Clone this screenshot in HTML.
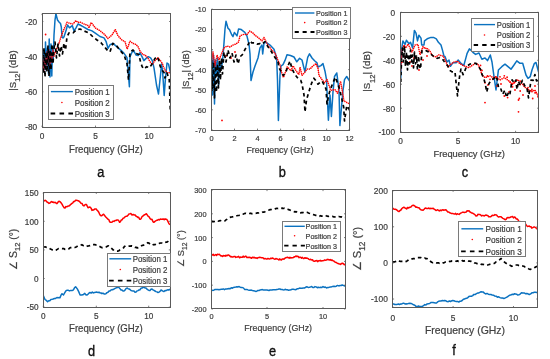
<!DOCTYPE html>
<html><head><meta charset="utf-8"><title>S12 measurements</title>
<style>
html,body{margin:0;padding:0;background:#fff;}
body{width:550px;height:359px;overflow:hidden;}
svg{display:block;font-family:"Liberation Sans",Arial,sans-serif;filter:blur(0.3px);}
.tx{stroke:currentColor;stroke-width:0.22px;}
</style></head><body>
<svg width="550" height="359" viewBox="0 0 550 359">
<rect width="550" height="359" fill="#fff"/>
<clipPath id="cla"><rect x="42" y="13.7" width="128.5" height="113.3"/></clipPath>
<g clip-path="url(#cla)">
<polyline points="42,52 43,68 44,50 45,70 45.5,42 46.5,66 47.5,48 48.5,74 49.2,39 50,77 51,44 51.8,76 52.5,48 53.2,60 54,35 55,20 55.9,13.8 57.5,20 59,22 60.5,23.5 61.3,27 62,37 63,38 64,36.7 66.2,30 67.5,25 69.5,27.8 72.3,25.6 74,31 76,27.8 78,24 80,25 83,26.7 88,29.5 92,30.9 96,33.7 100,36.5 104,37.9 106,41.3 108,48.3 110,44.8 113,43.4 117,46.9 121,50.4 124,53.3 127,57.7 129.4,86.8 130,56.7 132,52.2 133.9,51.1 136,55 138,55.6 140,52.8 142,56.7 143.9,60.6 146.1,58.4 148.4,56.7 150.6,57.8 152.3,60.6 154,67.8 156.5,85 158.5,94 160.5,75 161.5,64 162.5,70 164.2,95.5 165.5,78 167,63 168.5,64 170.3,72" fill="none" stroke="#0b72c0" stroke-width="1.5" stroke-linejoin="round"/>
<polyline points="42,66 43,60 44,70 45,58 46,66 47,52 48,62 49,50 50,66 51,54 52,62 53,50 54,56 56,50 58,46 60,40 62,34 64.5,28 67,22.3 70,23.4 73,24 76,20.6 78,22.5 80,22 84,24 87.7,25.3 89,28 91.2,22.5 95.4,28 100.3,30.9 104.5,34.4 108,38.5 112,35 115.3,29.5 118,35.8 121.9,40 125,41.7 127.2,49 130,41.1 132.8,43.3 136.1,44.5 138.4,47.2 140,51.1 142.8,54.5 145,55 147.8,57.8 150,61.7 152.3,64.5 154,61.7 156.2,59.5 157.8,57.8 160,60 162.3,63.4 163.4,66.7 165,70 167.9,73.4 170.3,72.3" fill="none" stroke="#ff0000" stroke-width="1.6" stroke-linecap="round" stroke-linejoin="round" stroke-dasharray="0.01 2.0"/>
<circle cx="45.6" cy="34.5" r="0.9" fill="#ff0000"/>
<polyline points="42,56 43,74 44,48 45,77 46,52 47,72 48,46 49,76 50,50 51,70 52,44 53,64 54,48 55,42 56.5,58 58,44 59.5,56 61,46 62.5,54 64,43 65.5,50 67,37 69,32.8 73,32.8 77,29.5 80,29 84,30.9 89,33 93.3,37.2 97,40 101,42.7 105.2,47.6 108,51 110,51.8 112.8,43.4 116,45 120,50.4 124,54.8 127,63.5 128.5,80 130,52 133,50 136,53.4 138.9,54.5 140.6,62.3 142.2,66.7 144,69 146.7,66.7 149.5,67.8 151.7,64.5 155,58.4 157.3,56.7 159.5,62.3 160,65.6 161.7,70 164,72.3 165,78 167,73 169.3,80 170.3,110" fill="none" stroke="#000000" stroke-width="1.7" stroke-dasharray="3.6 3.1" stroke-linejoin="round"/>
</g>
<rect x="42.5" y="13.5" width="128" height="114" fill="none" stroke="#5a5a5a" stroke-width="1"/>
<path d="M42 21.5h1.4M170.5 21.5h-1.4" stroke="#5a5a5a" stroke-width="0.8"/>
<path d="M42 56.7h1.4M170.5 56.7h-1.4" stroke="#5a5a5a" stroke-width="0.8"/>
<path d="M42 91.8h1.4M170.5 91.8h-1.4" stroke="#5a5a5a" stroke-width="0.8"/>
<path d="M42 127h1.4M170.5 127h-1.4" stroke="#5a5a5a" stroke-width="0.8"/>
<path d="M42 127v-1.4M42 13.7v1.4" stroke="#5a5a5a" stroke-width="0.8"/>
<path d="M95.5 127v-1.4M95.5 13.7v1.4" stroke="#5a5a5a" stroke-width="0.8"/>
<path d="M149 127v-1.4M149 13.7v1.4" stroke="#5a5a5a" stroke-width="0.8"/>
<g font-size="9.1" fill="#3c3c3c" color="#3c3c3c" class="tx">
<text transform="translate(37.2 24.7) scale(0.91 1)" text-anchor="end">-20</text>
<text transform="translate(37.2 59.9) scale(0.91 1)" text-anchor="end">-40</text>
<text transform="translate(37.2 95) scale(0.91 1)" text-anchor="end">-60</text>
<text transform="translate(37.2 130.2) scale(0.91 1)" text-anchor="end">-80</text>
<text transform="translate(42 139.4) scale(0.91 1)" text-anchor="middle">0</text>
<text transform="translate(95.5 139.4) scale(0.91 1)" text-anchor="middle">5</text>
<text transform="translate(149 139.4) scale(0.91 1)" text-anchor="middle">10</text>
</g>
<text transform="translate(15.6 70.5) rotate(-90)" font-size="9.6" fill="#404040" color="#404040" text-anchor="middle" class="tx">|S<tspan font-size="7.5" dy="4.8">12</tspan><tspan dy="-4.8">| (dB)</tspan></text>
<g font-size="10.2" fill="#404040" color="#404040" class="tx"><text transform="translate(105.9 152.6) scale(0.943 1)" text-anchor="middle">Frequency (GHz)</text></g>
<g font-size="14.2" fill="#111" stroke="#111" stroke-width="0.35"><text transform="translate(100.9 176.5) scale(0.9 1)" text-anchor="middle">a</text></g>
<rect x="48.5" y="85.5" width="65" height="34" fill="#fff" stroke="#7a7a7a" stroke-width="1"/>
<path d="M50.9 91.6H72.9" stroke="#0b72c0" stroke-width="1.4"/>
<circle cx="61.9" cy="102.5" r="0.8" fill="#ff0000"/>
<path d="M50.6 113.5H73" stroke="#000000" stroke-width="1.8" stroke-dasharray="4.6 4.3"/>
<g font-size="8.8" fill="#3c3c3c" color="#3c3c3c" class="tx">
<text transform="translate(74.7 94.7) scale(0.909 1)" text-anchor="start">Position 1</text>
<text transform="translate(74.7 105.6) scale(0.909 1)" text-anchor="start">Position 2</text>
<text transform="translate(74.7 116.6) scale(0.909 1)" text-anchor="start">Position 3</text>
</g>
<clipPath id="clb"><rect x="211.5" y="9.2" width="138.1" height="120.8"/></clipPath>
<g clip-path="url(#clb)">
<polyline points="211.5,50 212.5,95 213.5,55 214.5,104 215.5,60 216.5,75 217.5,58 218.5,85 219.5,62 220.5,70 222.5,62 224,42.9 225,29 226,21.3 228,28.2 229.5,29.6 231.6,34.5 233,36.6 234.4,32.4 237,35.9 238.6,28.9 241.3,29.6 244.8,32.4 246.9,35.9 249,44.2 250,54 251,80.5 253,72 255,66 258,58 260,47.9 262,45 262.7,54 264,43 266.1,42.3 270,45 274,49.2 276.6,57.6 277.5,80 278.4,120.4 280,75 281,66 283,64.6 285,60.4 287,54.8 290.5,55.5 294,57 296.8,61.8 299.6,58.3 302,60 304.9,71.9 307.7,57.3 309.5,53.8 312,58 314.6,60.8 317,62.9 318,67 320.9,65.6 323,63.6 325,71.2 326.5,79.6 328.4,120.2 330,95 331.4,116.4 333,91.9 334.5,76.5 336.8,73 339,90.3 339.9,125.6 343,90.3 344.5,79.6 346.7,76.5 349.6,81.1" fill="none" stroke="#0b72c0" stroke-width="1.5" stroke-linejoin="round"/>
<polyline points="211.5,62 213,52 215,66 217,55 219,60 221,55 224,48 227,46 230,47 233,45 236,44 238.5,42 240,36 243,34.5 247,34.5 249.7,31 253,33.1 255,35.3 258,37.4 262,40.9 264,37.4 267,43.7 271.7,50 275.2,53.4 278,60.4 280,64.6 281.5,72 283.5,77.5 287.2,66.8 291,70.7 293,65.8 296,70.7 298.9,74.6 300,67 302,75.4 304,73.3 307,69.1 310,69.1 312.5,66.3 316,63.6 318,68.4 319,75.4 322,79.6 324.5,82.7 327,79.6 330.7,90.3 335,89.6 337.6,93.4 340.6,81.1 344,101 347,102.6 349.6,104" fill="none" stroke="#ff0000" stroke-width="1.6" stroke-linecap="round" stroke-linejoin="round" stroke-dasharray="0.01 2.0"/>
<circle cx="222" cy="120.4" r="0.9" fill="#ff0000"/>
<circle cx="226" cy="56" r="0.9" fill="#ff0000"/>
<circle cx="231" cy="58" r="0.9" fill="#ff0000"/>
<circle cx="235" cy="52" r="0.9" fill="#ff0000"/>
<polyline points="211.5,60 212.5,90 213.5,62 214.5,98 215.5,66 216.5,92 217.5,64 218.5,88 219.5,60 220.5,80 221.5,58 222.5,74 224,52 226,62 228,50 230,58 232,53 234,62 236,55 238,64 240,56.8 243,54 244.8,49.8 247.6,45.6 250,40.8 251.8,42.9 255,43 257,44.2 260,43.6 262,44.4 265,41.6 268.2,47.2 270,49.2 272.4,53.4 276,59 278,61.8 279,67.8 283.3,75.6 286,71.7 288,65.8 290,61 292,68.8 295,74.6 298,78.5 300.8,80.5 302,84 304,95 305,112 306.5,100 308.4,93.4 311.5,83.4 313.9,78.2 316,81 318,84.2 320,82.4 322.2,81.1 326,88.8 327,104 328.5,96 330,90.3 333,82.7 335.3,77.3 338,84.2 339.9,90.3 343.7,107.2 344.5,121 346.8,105.7 349.6,110" fill="none" stroke="#000000" stroke-width="1.7" stroke-dasharray="3.6 3.1" stroke-linejoin="round"/>
</g>
<rect x="211.5" y="9.5" width="138" height="121" fill="none" stroke="#5a5a5a" stroke-width="1"/>
<path d="M211.5 9.2h1.4M349.6 9.2h-1.4" stroke="#5a5a5a" stroke-width="0.8"/>
<path d="M211.5 29.3h1.4M349.6 29.3h-1.4" stroke="#5a5a5a" stroke-width="0.8"/>
<path d="M211.5 49.5h1.4M349.6 49.5h-1.4" stroke="#5a5a5a" stroke-width="0.8"/>
<path d="M211.5 69.6h1.4M349.6 69.6h-1.4" stroke="#5a5a5a" stroke-width="0.8"/>
<path d="M211.5 89.7h1.4M349.6 89.7h-1.4" stroke="#5a5a5a" stroke-width="0.8"/>
<path d="M211.5 109.8h1.4M349.6 109.8h-1.4" stroke="#5a5a5a" stroke-width="0.8"/>
<path d="M211.5 130h1.4M349.6 130h-1.4" stroke="#5a5a5a" stroke-width="0.8"/>
<path d="M211.5 130v-1.4M211.5 9.2v1.4" stroke="#5a5a5a" stroke-width="0.8"/>
<path d="M234.5 130v-1.4M234.5 9.2v1.4" stroke="#5a5a5a" stroke-width="0.8"/>
<path d="M257.5 130v-1.4M257.5 9.2v1.4" stroke="#5a5a5a" stroke-width="0.8"/>
<path d="M280.6 130v-1.4M280.6 9.2v1.4" stroke="#5a5a5a" stroke-width="0.8"/>
<path d="M303.6 130v-1.4M303.6 9.2v1.4" stroke="#5a5a5a" stroke-width="0.8"/>
<path d="M326.6 130v-1.4M326.6 9.2v1.4" stroke="#5a5a5a" stroke-width="0.8"/>
<path d="M349.6 130v-1.4M349.6 9.2v1.4" stroke="#5a5a5a" stroke-width="0.8"/>
<g font-size="8.1" fill="#3c3c3c" color="#3c3c3c" class="tx">
<text transform="translate(206 12.1) scale(0.91 1)" text-anchor="end">-10</text>
<text transform="translate(206 32.2) scale(0.91 1)" text-anchor="end">-20</text>
<text transform="translate(206 52.3) scale(0.91 1)" text-anchor="end">-30</text>
<text transform="translate(206 72.5) scale(0.91 1)" text-anchor="end">-40</text>
<text transform="translate(206 92.6) scale(0.91 1)" text-anchor="end">-50</text>
<text transform="translate(206 112.7) scale(0.91 1)" text-anchor="end">-60</text>
<text transform="translate(206 132.9) scale(0.91 1)" text-anchor="end">-70</text>
<text transform="translate(211.5 141.4) scale(0.91 1)" text-anchor="middle">0</text>
<text transform="translate(234.5 141.4) scale(0.91 1)" text-anchor="middle">2</text>
<text transform="translate(257.5 141.4) scale(0.91 1)" text-anchor="middle">4</text>
<text transform="translate(280.6 141.4) scale(0.91 1)" text-anchor="middle">6</text>
<text transform="translate(303.6 141.4) scale(0.91 1)" text-anchor="middle">8</text>
<text transform="translate(326.6 141.4) scale(0.91 1)" text-anchor="middle">10</text>
<text transform="translate(349.6 141.4) scale(0.91 1)" text-anchor="middle">12</text>
</g>
<text transform="translate(188.8 69.7) rotate(-90)" font-size="9.2" fill="#404040" color="#404040" text-anchor="middle" class="tx">|S<tspan font-size="7.2" dy="4.6">12</tspan><tspan dy="-4.6">| (dB)</tspan></text>
<g font-size="9.3" fill="#404040" color="#404040" class="tx"><text transform="translate(280 153.1) scale(0.943 1)" text-anchor="middle">Frequency (GHz)</text></g>
<g font-size="14.2" fill="#111" stroke="#111" stroke-width="0.35"><text transform="translate(282.2 176.5) scale(0.9 1)" text-anchor="middle">b</text></g>
<rect x="292.5" y="7.5" width="58" height="31" fill="#fff" stroke="#7a7a7a" stroke-width="1"/>
<path d="M295 13H314.4" stroke="#0b72c0" stroke-width="1.4"/>
<circle cx="304.7" cy="22.6" r="0.8" fill="#ff0000"/>
<path d="M294.7 32H314.5" stroke="#000000" stroke-width="1.8" stroke-dasharray="4.1 3.8"/>
<g font-size="7.9" fill="#3c3c3c" color="#3c3c3c" class="tx">
<text transform="translate(316 15.8) scale(0.909 1)" text-anchor="start">Position 1</text>
<text transform="translate(316 25.4) scale(0.909 1)" text-anchor="start">Position 2</text>
<text transform="translate(316 34.8) scale(0.909 1)" text-anchor="start">Position 3</text>
</g>
<clipPath id="clc"><rect x="400.6" y="12.3" width="138" height="119.9"/></clipPath>
<g clip-path="url(#clc)">
<polyline points="400.8,78 401.5,50 402.9,40.9 405,44.4 406.4,40.2 409,43.7 410.5,42.3 412.6,47.9 414.4,30.4 416,33.2 417.5,40.9 418.9,35.3 421,38.1 421.7,45 424,45 424.5,40.9 427.2,38.8 431,37.4 433.5,37.4 436.3,38.8 438.4,42.3 441,45 442.6,50.6 444,56.2 445,56.5 447,62 449,60 450.6,66.2 453,62.7 456.1,62.7 458.2,60 461,63.4 463.8,65.5 465.9,57.9 467,53.7 469.4,48.8 472.9,52.3 475.6,54.4 479,53 481.9,59.2 485,57.9 487.5,60.6 490.3,55 492,62 494,76.7 496,90 498.4,70 501.8,66.7 505,64.2 508,66.7 511,69.2 514,65 516.8,60.8 520,63.3 522.7,63.3 526,75 528,78.4 530.2,76.7 532,70 534.4,63.3 536,62.5 538.6,72" fill="none" stroke="#0b72c0" stroke-width="1.5" stroke-linejoin="round"/>
<polyline points="400.8,70 402,50 404,45 406,48 408,44 410,47.9 412,52 415,45 418,44.4 420,54.8 423,46.5 425,48.6 426.6,47.9 430,51.3 432.8,56.2 436,56.9 439,54.8 443.3,56.2 446,61.8 448,66.9 451,64.1 454,62 457.5,61.3 459.6,63.4 463,65.5 466,66.5 468.7,67.6 472.2,65.5 475,63.4 478,64.1 480.5,70 482,75 485,77.6 490,75.9 493,77.6 496,76.7 500,80 504.3,77.6 510,81.7 512,85 514.3,82.6 517,80 520.2,80.9 524.3,86.8 528,89.3 531.9,91.8 535,90 538.6,96.8" fill="none" stroke="#ff0000" stroke-width="1.6" stroke-linecap="round" stroke-linejoin="round" stroke-dasharray="0.01 2.0"/>
<circle cx="410" cy="62" r="0.9" fill="#ff0000"/>
<circle cx="419" cy="70" r="0.9" fill="#ff0000"/>
<circle cx="414" cy="58" r="0.9" fill="#ff0000"/>
<circle cx="423" cy="60" r="0.9" fill="#ff0000"/>
<circle cx="405" cy="57" r="0.9" fill="#ff0000"/>
<circle cx="427" cy="56" r="0.9" fill="#ff0000"/>
<circle cx="412" cy="66" r="0.9" fill="#ff0000"/>
<circle cx="402" cy="62" r="0.9" fill="#ff0000"/>
<circle cx="485" cy="102.6" r="0.9" fill="#ff0000"/>
<circle cx="518.5" cy="100" r="0.9" fill="#ff0000"/>
<circle cx="519.3" cy="98.5" r="0.9" fill="#ff0000"/>
<circle cx="518.5" cy="111.8" r="0.9" fill="#ff0000"/>
<circle cx="527.7" cy="91" r="0.9" fill="#ff0000"/>
<circle cx="531.9" cy="89.3" r="0.9" fill="#ff0000"/>
<circle cx="536" cy="92.6" r="0.9" fill="#ff0000"/>
<circle cx="538" cy="96.8" r="0.9" fill="#ff0000"/>
<circle cx="532.7" cy="98.5" r="0.9" fill="#ff0000"/>
<circle cx="507.6" cy="97.6" r="0.9" fill="#ff0000"/>
<circle cx="504.3" cy="96" r="0.9" fill="#ff0000"/>
<circle cx="520.2" cy="91" r="0.9" fill="#ff0000"/>
<circle cx="512.6" cy="86.8" r="0.9" fill="#ff0000"/>
<circle cx="497" cy="86" r="0.9" fill="#ff0000"/>
<circle cx="501" cy="84" r="0.9" fill="#ff0000"/>
<circle cx="523" cy="95" r="0.9" fill="#ff0000"/>
<circle cx="535" cy="86" r="0.9" fill="#ff0000"/>
<circle cx="509" cy="92" r="0.9" fill="#ff0000"/>
<circle cx="488" cy="85" r="0.9" fill="#ff0000"/>
<circle cx="515" cy="90" r="0.9" fill="#ff0000"/>
<circle cx="480.5" cy="65.4" r="0.9" fill="#ff0000"/>
<circle cx="482" cy="70.4" r="0.9" fill="#ff0000"/>
<circle cx="485" cy="82.8" r="0.9" fill="#ff0000"/>
<circle cx="487.5" cy="76" r="0.9" fill="#ff0000"/>
<circle cx="490" cy="79.3" r="0.9" fill="#ff0000"/>
<circle cx="493" cy="79" r="0.9" fill="#ff0000"/>
<circle cx="496" cy="76.9" r="0.9" fill="#ff0000"/>
<circle cx="500" cy="76.8" r="0.9" fill="#ff0000"/>
<circle cx="504.3" cy="75.8" r="0.9" fill="#ff0000"/>
<circle cx="507.1" cy="77.2" r="0.9" fill="#ff0000"/>
<circle cx="510" cy="82.1" r="0.9" fill="#ff0000"/>
<circle cx="512" cy="83.4" r="0.9" fill="#ff0000"/>
<circle cx="514.3" cy="82.6" r="0.9" fill="#ff0000"/>
<circle cx="517" cy="80.1" r="0.9" fill="#ff0000"/>
<circle cx="520.2" cy="84.5" r="0.9" fill="#ff0000"/>
<circle cx="524.3" cy="84.6" r="0.9" fill="#ff0000"/>
<circle cx="528" cy="87.6" r="0.9" fill="#ff0000"/>
<circle cx="531.9" cy="90.8" r="0.9" fill="#ff0000"/>
<circle cx="535" cy="92.8" r="0.9" fill="#ff0000"/>
<circle cx="538.6" cy="95.3" r="0.9" fill="#ff0000"/>
<polyline points="400.8,82 401.5,60 402,54 402.5,48 403,55 403.5,62 404,54 404.5,46 405,56 405.5,66 406,59 406.5,52 407,61 407.5,70 408,62 408.5,54 409,59 409.5,64 410,57 410.5,50 411,56 411.5,62 412,58.5 412.5,55 413,61.5 413.5,68 414,60 414.5,52 415,58 415.5,64 416,60 416.5,56 417,63 417.5,70 418,63 418.5,56 419,61 419.5,66 420,67.5 420.5,69 421,62.9 421.5,56.7 422,50.6 422.5,50.5 423,50.4 423.5,50.3 424,50.2 424.5,50.1 425,50 425.5,50.3 426,50.6 426.5,50.9 427.1,51.1 427.6,51.4 428.1,51.7 428.6,52 429.2,52.5 429.8,53 430.4,53.6 431,54.1 431.5,54.6 432.1,55 432.6,55.5 433.1,56 433.7,56.4 434.2,56.9 434.8,57.2 435.3,57.5 435.9,57.7 436.4,58 437,58.3 437.6,58.2 438.1,58 438.7,57.9 439.2,57.7 439.8,57.6 440.3,58 440.9,58.3 441.4,58.7 441.9,59 442.5,59.4 443,59.7 443.6,60.6 444.2,61.5 444.8,62.3 445.4,63.2 445.9,63.8 446.4,64.4 447,65 447.5,65.6 448,66.2 448.6,67.6 449.3,69 449.9,70.4 450.4,70.8 450.9,71.1 451.5,71.5 452,71.8 452.5,71.8 453,71.9 453.5,71.9 454,71.9 454.5,72 455,72 455.6,78 456.2,84 456.9,90 457.5,96 458.1,90 458.7,84 459.2,79.5 459.8,75 460.4,72 461,69 461.5,70.4 462.1,71.8 462.6,73.2 463.1,74.6 463.7,73.2 464.4,71.8 465,70.4 465.5,69 466.1,67.6 466.6,66.2 467.2,65.8 467.7,65.5 468.3,65.2 468.9,64.8 469.4,64.4 470,64.1 470.5,64 471,63.9 471.5,63.8 472,63.6 472.5,63.5 473,63.4 473.5,63.4 474,63.4 474.5,63.4 475,63.4 475.5,63.4 476,63.4 476.6,64.1 477.2,64.8 477.8,65.5 478.4,66.2 479,67 479.5,67.9 480.1,68.7 480.6,69.6 481.2,70.4 481.7,73.4 482.2,74.7 482.7,76 483.2,77.4 483.7,78.7 484.2,80 484.9,82.5 485.5,85 486.1,88.5 486.7,92 487.3,89.8 487.9,87.7 488.4,85.6 489,83.4 489.5,82.7 490.1,82 490.6,81.4 491.2,80.7 491.7,80 492.2,79.6 492.8,79.2 493.4,78.8 493.9,78.4 494.4,78 495,80.4 497,78.3 498.7,88.7 500.9,89.1 502.6,94.3 504.9,90.2 506.5,97.6 508.8,91.6 510,93.7 512.1,79.8 514.2,83.1 515.8,80.1 517,89.5 518.5,81.2 520.1,85.7 522.4,80.3 524.6,85.7 526.9,87.2 528.5,97.9 531,80.2 533.2,80.3 534.9,74.5 536.5,80.8 538.1,80.5 538.6,81.7" fill="none" stroke="#000000" stroke-width="1.7" stroke-dasharray="3.6 3.1" stroke-linejoin="round"/>
</g>
<rect x="400.5" y="12.5" width="138" height="120" fill="none" stroke="#5a5a5a" stroke-width="1"/>
<path d="M400.6 12.3h1.4M538.6 12.3h-1.4" stroke="#5a5a5a" stroke-width="0.8"/>
<path d="M400.6 36.3h1.4M538.6 36.3h-1.4" stroke="#5a5a5a" stroke-width="0.8"/>
<path d="M400.6 60.3h1.4M538.6 60.3h-1.4" stroke="#5a5a5a" stroke-width="0.8"/>
<path d="M400.6 84.2h1.4M538.6 84.2h-1.4" stroke="#5a5a5a" stroke-width="0.8"/>
<path d="M400.6 108.2h1.4M538.6 108.2h-1.4" stroke="#5a5a5a" stroke-width="0.8"/>
<path d="M400.6 132.2h1.4M538.6 132.2h-1.4" stroke="#5a5a5a" stroke-width="0.8"/>
<path d="M400.6 132.2v-1.4M400.6 12.3v1.4" stroke="#5a5a5a" stroke-width="0.8"/>
<path d="M458.1 132.2v-1.4M458.1 12.3v1.4" stroke="#5a5a5a" stroke-width="0.8"/>
<path d="M515.6 132.2v-1.4M515.6 12.3v1.4" stroke="#5a5a5a" stroke-width="0.8"/>
<g font-size="9.1" fill="#3c3c3c" color="#3c3c3c" class="tx">
<text transform="translate(395 15.5) scale(0.91 1)" text-anchor="end">0</text>
<text transform="translate(395 39.5) scale(0.91 1)" text-anchor="end">-20</text>
<text transform="translate(395 63.5) scale(0.91 1)" text-anchor="end">-40</text>
<text transform="translate(395 87.5) scale(0.91 1)" text-anchor="end">-60</text>
<text transform="translate(395 111.5) scale(0.91 1)" text-anchor="end">-80</text>
<text transform="translate(395 135.4) scale(0.91 1)" text-anchor="end">-100</text>
<text transform="translate(400.6 143.8) scale(0.91 1)" text-anchor="middle">0</text>
<text transform="translate(458.1 143.8) scale(0.91 1)" text-anchor="middle">5</text>
<text transform="translate(515.6 143.8) scale(0.91 1)" text-anchor="middle">10</text>
</g>
<text transform="translate(370.2 71.4) rotate(-90)" font-size="9.7" fill="#404040" color="#404040" text-anchor="middle" class="tx">|S<tspan font-size="7.6" dy="4.9">12</tspan><tspan dy="-4.9">| (dB)</tspan></text>
<g font-size="9.9" fill="#404040" color="#404040" class="tx"><text transform="translate(469.2 157.2) scale(0.943 1)" text-anchor="middle">Frequency (GHz)</text></g>
<g font-size="14.2" fill="#111" stroke="#111" stroke-width="0.35"><text transform="translate(464.9 176.7) scale(0.9 1)" text-anchor="middle">c</text></g>
<rect x="471.5" y="18.5" width="62" height="33" fill="#fff" stroke="#7a7a7a" stroke-width="1"/>
<path d="M474 24.6H495" stroke="#0b72c0" stroke-width="1.4"/>
<circle cx="484.5" cy="35" r="0.8" fill="#ff0000"/>
<path d="M473.7 45H495.1" stroke="#000000" stroke-width="1.8" stroke-dasharray="4.4 4.1"/>
<g font-size="8.4" fill="#3c3c3c" color="#3c3c3c" class="tx">
<text transform="translate(496.8 27.6) scale(0.909 1)" text-anchor="start">Position 1</text>
<text transform="translate(496.8 38) scale(0.909 1)" text-anchor="start">Position 2</text>
<text transform="translate(496.8 48) scale(0.909 1)" text-anchor="start">Position 3</text>
</g>
<clipPath id="cld"><rect x="43.3" y="192.5" width="126.9" height="114.6"/></clipPath>
<g clip-path="url(#cld)">
<polyline points="43.4,295.9 45,299.5 46.3,300.4 47.6,301.7 48.7,300.7 49.8,300.7 50.9,299.4 52,299.3 53.2,299 54.4,298.5 55.6,298.4 56.9,297.5 58.2,297.7 59.5,297.4 60,297.8 61,295.2 62,293.7 63.5,295 64.8,292.7 66.1,290.6 67.2,290.2 68.4,290.3 69.5,290.9 70.8,290.4 72.1,290.6 73.4,289.8 74.5,287.8 75.6,286.7 77.3,288.9 78.7,291.6 80.1,295 81.5,295.1 82.9,294.8 84.8,293.4 85.8,294.7 86.8,295 87.9,294.3 88.9,293.2 90,292.5 91.2,293.1 92.3,292 93.4,292.9 94.6,292.5 95.7,292.2 96.9,292.1 98,292.5 99,292.2 100,292.9 101,292.9 102,293.7 103,293.2 104,293.9 105,294 106,293.6 107,292.6 108,292.3 109,291.1 110,291 111,290 112,289.6 113,289.7 114,289 115.1,288.4 116.2,287.8 117.4,287.6 118.5,287 119.8,288.4 121,290 122,290.1 123,291 124,291 125,290.2 126,288.7 127,288 128,288.6 129,289 130,289.5 131,290.5 132,290.8 133,291 134,291.1 135,292.2 136,292 137,290.9 138,290.6 139,290 140,289.7 141,288.3 142,288.1 143,287.5 144,287.1 145,288 146,288 147,289.2 148,289.8 149,290.5 150,290.5 151,289.3 152,289 153,289.9 154,290.4 155,291 156,291.6 157,291.9 158,292.5 159,292.1 160,291.4 161,290 162,290.5 163,291.2 164,291.5 165,290.5 166,290.7 167,290 168.1,289.8 169.1,289.9 170.2,289" fill="none" stroke="#0b72c0" stroke-width="1.5" stroke-linejoin="round"/>
<polyline points="43.3,200.8 44.1,201 45,200.2 46,200.8 47,202 48,202.5 49,203.4 49.9,203 50.8,202.1 51.6,201.5 52.4,202.3 53.2,202 54,202.7 54.8,202.3 55.6,202.4 56.4,203.6 57.2,203.4 58.5,201.5 59.3,201.3 60.2,201.9 61,202.7 62,204.1 62.9,205.9 64.2,207.8 65,208.1 65.8,206.5 66.6,206.7 67.4,206.5 68.4,205.9 69.5,205.8 70.5,204.6 72,203.4 72.8,202.9 73.7,201.5 74.6,201.6 75.4,200.3 76.3,200.2 77.2,200.4 78.2,200.8 79.2,201.2 80.1,202.1 81,203.3 82,203.4 83,205.4 83.9,205.9 84.8,204.9 85.6,204.5 86.5,204.6 88,207.8 89.2,207.1 90.3,207.2 91.2,208.4 92,210.4 92.8,210.1 93.7,209.9 94.6,209.1 95.4,209.1 96.2,209 97.1,210.2 97.9,211 98.8,212.3 99.6,214.1 100.5,215.5 101.5,215.8 102.6,214.9 103.6,214.2 104.4,215.2 105.2,216.3 106,217.3 106.8,218 108,219.3 108.8,219.6 109.7,221.9 110.5,222.3 111.3,222.3 112.2,222.1 113,221.1 114,221.4 115,220.5 116,220.5 116.9,220 117.8,219.9 118.7,220.5 119.6,222.3 120.4,221.7 121.2,220 122,219.9 123,218.3 123.9,218 124.9,216.9 126,216.3 127,216.2 128,215.2 129,213.9 130,213.8 131,213.6 132,215 133.2,214.5 134.3,215 135.2,215 136.1,216.2 137,216.6 137.9,217.4 138.7,217.3 139.6,219.3 140.4,219.3 141.2,218.4 142,216.7 142.8,216.2 143.7,215.2 144.7,214.8 145.6,214.2 146.5,213.8 148,216.2 149.1,216.9 150.1,218.7 151.1,219.5 152,219.3 152.9,221.6 153.8,222.3 155,221.3 156.2,220.5 157.2,220.3 158.3,219.5 159.3,219.9 160.3,219.1 161.3,219.3 162.3,219.3 163.2,218.9 164.2,219.8 165.1,218.8 166,219.3 166.9,219.5 167.8,221.1 169,223.7 170.2,224.8" fill="none" stroke="#ff0000" stroke-width="1.5" stroke-linejoin="round"/>
<polyline points="43.3,246.7 44.4,247 45.5,246.9 46.7,247.5 47.8,247.7 49.1,248 50.4,249 51.7,249.6 53.2,250.4 54.6,250.6 55.9,250.2 57.2,249.4 58.5,248.6 59.8,248.4 61.1,248.5 62.4,248.6 63.6,248.6 64.8,249.3 66.1,249.4 67.3,249.6 68.8,248.9 70.2,247.7 71.5,247.6 72.8,247.5 74.1,247.7 75.4,247.3 76.7,246.7 78,245.7 79.3,245.6 80.6,245.3 81.9,244.7 83.2,245.6 84.5,246.2 85.8,246.7 87.1,246.2 88.4,246 89.7,245.7 91,245.3 92.3,244.7 93.6,244.7 94.8,244.6 96,245 97.3,245.3 98.5,245.7 99.8,246.5 101.1,247.4 102.4,247.7 103.4,247.4 104.4,247.4 105.5,247.2 106.5,246.8 107.5,246.1 108.5,245.9 109.7,246.7 110.8,247.7 111.9,248.7 113.1,249.9 114.2,250 115.4,250.6 116.5,251.2 117.7,251.2 118.8,250.8 120,249.9 121.2,249.4 122.3,248.6 123.4,247.9 124.4,246.5 125.5,245.9 126.7,246 127.9,246.2 129,246.1 130.2,246.1 131.4,245.9 132.6,246.3 133.8,246.5 134.9,247.3 136.1,247.4 137.3,247.9 138.3,247.6 139.4,247.2 140.4,246.3 141.5,245.7 142.5,245.3 143.6,245.1 144.6,244.4 145.7,243.5 146.7,243 147.8,242.7 149,243.1 150.1,244.3 151.2,244.9 152.4,245.3 153.4,244.6 154.5,244.7 155.5,244.4 156.6,243.8 157.6,243.3 158.6,243.2 159.7,243.3 160.7,243 161.8,243 162.8,243.3 163.8,243.3 164.9,242.6 165.9,242.2 167,242.1 168,241.4 169.1,240.4 170.2,239.4" fill="none" stroke="#000000" stroke-width="1.7" stroke-dasharray="3.6 3.1" stroke-linejoin="round"/>
</g>
<rect x="43.5" y="192.5" width="127" height="115" fill="none" stroke="#5a5a5a" stroke-width="1"/>
<path d="M43.3 192.7h1.4M170.2 192.7h-1.4" stroke="#5a5a5a" stroke-width="0.8"/>
<path d="M43.3 221.3h1.4M170.2 221.3h-1.4" stroke="#5a5a5a" stroke-width="0.8"/>
<path d="M43.3 249.9h1.4M170.2 249.9h-1.4" stroke="#5a5a5a" stroke-width="0.8"/>
<path d="M43.3 278.5h1.4M170.2 278.5h-1.4" stroke="#5a5a5a" stroke-width="0.8"/>
<path d="M43.3 307.1h1.4M170.2 307.1h-1.4" stroke="#5a5a5a" stroke-width="0.8"/>
<path d="M43.3 307.1v-1.4M43.3 192.5v1.4" stroke="#5a5a5a" stroke-width="0.8"/>
<path d="M96.3 307.1v-1.4M96.3 192.5v1.4" stroke="#5a5a5a" stroke-width="0.8"/>
<path d="M148.7 307.1v-1.4M148.7 192.5v1.4" stroke="#5a5a5a" stroke-width="0.8"/>
<g font-size="9" fill="#3c3c3c" color="#3c3c3c" class="tx">
<text transform="translate(38.5 195.9) scale(0.91 1)" text-anchor="end">150</text>
<text transform="translate(38.5 224.5) scale(0.91 1)" text-anchor="end">100</text>
<text transform="translate(38.5 253.1) scale(0.91 1)" text-anchor="end">50</text>
<text transform="translate(38.5 281.7) scale(0.91 1)" text-anchor="end">0</text>
<text transform="translate(38.5 310.3) scale(0.91 1)" text-anchor="end">-50</text>
<text transform="translate(43.3 318.8) scale(0.91 1)" text-anchor="middle">0</text>
<text transform="translate(96.3 318.8) scale(0.91 1)" text-anchor="middle">5</text>
<text transform="translate(148.7 318.8) scale(0.91 1)" text-anchor="middle">10</text>
</g>
<text transform="translate(16.6 249.3) rotate(-90)" font-size="10.3" fill="#404040" color="#404040" text-anchor="middle" class="tx">∠ S<tspan font-size="7.6" dy="3.7">12</tspan><tspan dy="-3.7"> (°)</tspan></text>
<g font-size="10.2" fill="#404040" color="#404040" class="tx"><text transform="translate(105.9 332.3) scale(0.943 1)" text-anchor="middle">Frequency (GHz)</text></g>
<g font-size="14.2" fill="#111" stroke="#111" stroke-width="0.35"><text transform="translate(91.5 355.5) scale(0.9 1)" text-anchor="middle">d</text></g>
<rect x="107.5" y="253.5" width="63" height="33" fill="#fff" stroke="#7a7a7a" stroke-width="1"/>
<path d="M109.4 258.8H131.2" stroke="#0b72c0" stroke-width="1.4"/>
<circle cx="120.3" cy="269.5" r="0.8" fill="#ff0000"/>
<path d="M109.1 280.6H131.3" stroke="#000000" stroke-width="1.8" stroke-dasharray="4.6 4.2"/>
<g font-size="8.7" fill="#3c3c3c" color="#3c3c3c" class="tx">
<text transform="translate(132.7 261.9) scale(0.909 1)" text-anchor="start">Position 1</text>
<text transform="translate(132.7 272.6) scale(0.909 1)" text-anchor="start">Position 2</text>
<text transform="translate(132.7 283.7) scale(0.909 1)" text-anchor="start">Position 3</text>
</g>
<clipPath id="cle"><rect x="211.5" y="189.7" width="133.9" height="118.7"/></clipPath>
<g clip-path="url(#cle)">
<polyline points="211.5,290 212.6,290.4 213.6,290.3 214.7,289.5 215.8,289.5 216.8,289.5 217.9,289.4 218.9,289.8 220,289.6 221.1,289.2 222.3,289.3 223.4,288.9 224.5,289.7 225.7,288.9 226.8,289 227.9,288.7 229,288.6 230.2,288.7 231.3,287.8 232.4,288.2 233.5,287.4 234.7,287.2 235.8,287 237,286.7 238.1,286.9 239.1,286.5 240.1,287.2 241.2,287.4 242.3,287.6 243.4,287.9 244.6,289.4 245.7,289.6 246.8,289.4 247.9,289.9 249.1,290.3 250.2,290.3 251.3,290.1 252.4,290.5 253.5,290.7 254.6,290.9 255.7,291.4 256.8,291.2 257.9,290.4 259,290.6 260.2,289.9 261.3,289.7 262.4,289.6 263.6,290.1 264.8,289.9 266,290 267,290.1 268,290.3 269,290.5 270,290 271,289.9 272,290 273,289.8 274,289.8 275,289.7 276,289.8 277,289.4 278,289.3 279,289.1 280,289 281,289.6 282,289.5 283.1,289.8 284.1,290 285.1,289.3 286.1,289.7 287.3,289.8 288.6,290.2 289.8,290.1 291,289.7 292.2,289.3 293.4,289.2 294.7,289.6 295.9,289.7 297.1,288.8 298.4,288.7 299.6,288.1 300.8,288.3 302,288.3 303.2,288.1 304.4,288 305.6,287.3 306.8,286.8 308.1,287.4 309.3,287.2 310.5,286.9 311.6,286.5 312.7,287.4 313.9,287.5 315,286.6 316.1,286.9 317.3,287.7 318.4,287.2 319.6,287.6 320.7,287.2 321.9,287.5 323,286.5 324.2,287.4 325.3,287 326.5,287.9 327.7,287.6 328.9,287.4 330.2,287 331.4,286.9 332.6,286.4 333.9,286.3 335.1,286.6 336.3,286.2 337.5,285.4 338.8,285.9 340,285.6 341.2,285.5 342.2,285 343.3,285.4 344.3,285.9 345.4,285.8" fill="none" stroke="#0b72c0" stroke-width="1.5" stroke-linejoin="round"/>
<polyline points="211.5,255.2 212.3,255.1 213.2,254.2 214,255.5 214.9,255.1 215.7,254.5 216.6,255.4 217.5,254.2 218.4,254.6 219.3,254.3 220.2,255.2 221,256.1 221.9,255.7 222.7,256.5 223.5,255.6 224.3,255.7 225.1,256.2 225.9,255.2 226.8,255.8 227.8,255.1 228.8,255.1 229.7,255.8 230.5,256.8 231.3,256.6 232.1,257.1 232.9,257.1 233.8,256.5 234.8,256.4 235.8,257.4 236.7,257.1 237.6,257 238.6,256.4 239.6,257.8 240.5,257.1 241.4,257.2 242.3,257.3 243.2,256.1 244.1,257.2 245,256.5 245.9,256.1 246.9,257.6 247.9,257.2 248.8,257.5 249.7,257.3 250.6,257.7 251.5,258.3 252.4,257.3 253.3,257.7 254.2,257.3 255.2,258.1 256.2,257.8 257.1,258.4 258,257.7 258.9,257.6 259.7,257.3 260.6,257.4 261.5,257.7 262.4,257.7 263.3,257.9 264.2,258.9 265.1,258.4 266,259 266.9,259 267.9,258.5 268.9,258.8 269.8,259 270.8,258.2 271.7,258.5 272.7,258 273.6,258.7 274.5,259.2 275.4,259 276.2,258.5 277.1,259.1 278,259.2 278.9,260 279.7,258.9 280.6,259.7 281.4,259.9 282.2,259.1 283.1,258.9 283.9,259.2 284.7,258.4 285.6,257.8 286.6,257.6 287.5,257.2 288.3,257.6 289.2,258.2 290,257.3 290.9,258.1 291.7,257.7 292.5,257.8 293.3,257.5 294.1,257 295,256.7 295.8,256 296.6,256.5 297.4,256.2 298.2,256.4 299.1,257.7 299.9,257.2 300.7,257.3 301.5,258.1 302.4,257.4 303.2,258.4 304.1,258.4 305,257.7 305.8,258.3 306.6,258 307.4,258.3 308.2,258.7 309,259.3 309.8,259.7 310.7,259.3 311.6,260 312.5,259.8 313.4,261.1 314.3,261.3 315.2,260.8 316.1,260.9 316.9,260.5 317.7,261.7 318.6,260.7 319.4,260.8 320.2,260.3 321,261.1 321.9,260.7 322.8,260.7 323.8,260.6 324.7,259.9 325.6,260.2 326.5,260 327.3,259.3 328.1,259.8 328.9,259.6 329.8,260.1 330.6,259.6 331.4,260.4 332.2,260 333,260.8 333.9,261 334.7,261.9 335.5,262.2 336.3,262.5 337.2,263.2 338.1,263.4 338.9,263.9 339.8,263.9 340.6,264.4 341.5,263.5 342.4,263.3 343.2,263.5 344.3,264.7 345.4,264.3" fill="none" stroke="#ff0000" stroke-width="1.5" stroke-linejoin="round"/>
<polyline points="211.5,221.8 212.6,221.4 213.6,221.7 214.6,221.5 215.7,221.2 216.8,220.7 217.9,221.1 219.1,221 220.2,220.5 221.5,220.8 222.7,221.1 224,221.2 225.1,220.8 226.1,219.7 227.2,219.3 228.4,218.4 229.7,217.4 230.8,217.1 231.9,217 233.1,216.6 234.2,216.1 235.5,216.1 236.7,215.8 238,215.5 239.3,215.3 240.5,214.8 241.8,214.2 242.9,214.2 244.1,213.7 245.2,213.3 246.3,213.5 247.4,213.2 248.4,213.4 249.5,213.5 250.6,213.2 251.7,213.7 252.8,213.5 253.9,213.5 255.2,213.4 256.4,213.2 257.7,212.9 259,213 260.2,212.9 261.5,212.9 262.6,212.1 263.8,212.2 264.9,211.7 266,211 267.3,210.6 268.5,210.2 269.8,209.7 271.1,209.6 272.3,209 273.6,209.1 274.7,209.1 275.9,208.6 277,208.3 278.1,208.5 279.1,208.2 280.2,208.3 281.2,208.5 282.2,208.1 283.2,208.5 284.2,208.3 285.3,209 286.4,208.9 287.6,209.2 288.7,209.6 289.8,210 290.8,210.5 291.9,211 292.9,211.3 294,211.6 295.1,211.9 296.2,211.7 297.2,212 298.3,212.3 299.4,212.9 300.5,212.9 301.6,212.7 302.7,212.7 303.8,212.2 304.8,212.2 305.9,212.2 307,212.3 308.1,212.8 309.1,213.2 310.2,213.6 311.2,213.7 312.3,214.2 313.5,214.6 314.7,215 315.8,215.4 317,215.5 318.2,216.2 319.4,216.3 320.6,215.7 321.7,216.1 322.9,216 324.1,215.5 325.1,215.3 326.2,215.8 327.2,216.2 328.3,216.4 329.3,216.2 330.5,216.3 331.7,216.3 332.8,216.4 334,217 335.2,216.8 336.4,216.6 337.6,216.9 338.7,216.5 339.9,216.8 341.1,216.8 342.2,217.3 343.2,216.9 344.3,217.6 345.4,217.5" fill="none" stroke="#000000" stroke-width="1.7" stroke-dasharray="3.6 3.1" stroke-linejoin="round"/>
</g>
<rect x="211.5" y="189.5" width="134" height="119" fill="none" stroke="#5a5a5a" stroke-width="1"/>
<path d="M211.5 190h1.4M345.4 190h-1.4" stroke="#5a5a5a" stroke-width="0.8"/>
<path d="M211.5 213.8h1.4M345.4 213.8h-1.4" stroke="#5a5a5a" stroke-width="0.8"/>
<path d="M211.5 237.6h1.4M345.4 237.6h-1.4" stroke="#5a5a5a" stroke-width="0.8"/>
<path d="M211.5 261.4h1.4M345.4 261.4h-1.4" stroke="#5a5a5a" stroke-width="0.8"/>
<path d="M211.5 285.2h1.4M345.4 285.2h-1.4" stroke="#5a5a5a" stroke-width="0.8"/>
<path d="M211.5 309h1.4M345.4 309h-1.4" stroke="#5a5a5a" stroke-width="0.8"/>
<path d="M211.5 308.4v-1.4M211.5 189.7v1.4" stroke="#5a5a5a" stroke-width="0.8"/>
<path d="M267 308.4v-1.4M267 189.7v1.4" stroke="#5a5a5a" stroke-width="0.8"/>
<path d="M323 308.4v-1.4M323 189.7v1.4" stroke="#5a5a5a" stroke-width="0.8"/>
<g font-size="8.1" fill="#3c3c3c" color="#3c3c3c" class="tx">
<text transform="translate(206.5 192.9) scale(0.91 1)" text-anchor="end">300</text>
<text transform="translate(206.5 216.7) scale(0.91 1)" text-anchor="end">200</text>
<text transform="translate(206.5 240.5) scale(0.91 1)" text-anchor="end">100</text>
<text transform="translate(206.5 264.3) scale(0.91 1)" text-anchor="end">0</text>
<text transform="translate(206.5 288.1) scale(0.91 1)" text-anchor="end">-100</text>
<text transform="translate(206.5 311.9) scale(0.91 1)" text-anchor="end">-200</text>
<text transform="translate(211.5 319.2) scale(0.91 1)" text-anchor="middle">0</text>
<text transform="translate(267 319.2) scale(0.91 1)" text-anchor="middle">5</text>
<text transform="translate(323 319.2) scale(0.91 1)" text-anchor="middle">10</text>
</g>
<text transform="translate(184.1 248.5) rotate(-90)" font-size="9.2" fill="#404040" color="#404040" text-anchor="middle" class="tx">∠ S<tspan font-size="6.8" dy="3.3">12</tspan><tspan dy="-3.3"> (°)</tspan></text>
<g font-size="9.4" fill="#404040" color="#404040" class="tx"><text transform="translate(278.1 331.2) scale(0.943 1)" text-anchor="middle">Frequency (GHz)</text></g>
<g font-size="14.2" fill="#111" stroke="#111" stroke-width="0.35"><text transform="translate(272.6 355.7) scale(0.9 1)" text-anchor="middle">e</text></g>
<rect x="282.5" y="221.5" width="58" height="30" fill="#fff" stroke="#7a7a7a" stroke-width="1"/>
<path d="M284.5 226.3H304.8" stroke="#0b72c0" stroke-width="1.4"/>
<circle cx="294.6" cy="235.7" r="0.8" fill="#ff0000"/>
<path d="M284.2 245.7H304.9" stroke="#000000" stroke-width="1.8" stroke-dasharray="4.3 4"/>
<g font-size="7.9" fill="#3c3c3c" color="#3c3c3c" class="tx">
<text transform="translate(305.6 229.1) scale(0.909 1)" text-anchor="start">Position 1</text>
<text transform="translate(305.6 238.5) scale(0.909 1)" text-anchor="start">Position 2</text>
<text transform="translate(305.6 248.5) scale(0.909 1)" text-anchor="start">Position 3</text>
</g>
<clipPath id="clf"><rect x="392.7" y="190.4" width="145" height="117"/></clipPath>
<g clip-path="url(#clf)">
<polyline points="392.7,303.9 393.8,304 394.9,304.6 396.1,304.5 397.2,304.4 398.4,304 399.5,304.6 400.6,304 401.8,303.9 402.9,303.3 404,303.3 405,303.9 406.1,303.8 407.2,303.9 408.5,303.4 409.9,303.3 411.1,303.4 412.4,304.1 413.6,304.8 414.8,305.2 416,306.4 417.2,306.6 418.5,306 419.9,306.6 421.1,306.6 422.3,306.4 423.5,305.7 424.7,304.6 425.9,305 427.1,303.9 428.3,303.7 429.6,303.5 430.8,302.6 431.9,302.4 433.1,302.6 434.2,302.8 435.3,303 436.5,303 437.7,301.9 438.9,301.2 440,300.9 441.1,300.9 442.3,300.6 443.4,300.8 444.6,300.5 445.9,300.8 447.1,301.5 448.2,301.7 449.4,300.9 450.5,301.5 451.6,300.8 452.8,300.6 454,300.8 455.2,301.2 456.4,301.5 457.6,301.4 458.8,302.1 459.9,301.2 461.1,301.2 462.2,300.5 463.4,299.3 464.5,299.1 465.6,298.4 466.6,298.2 467.7,297.7 468.8,296.6 470.1,296.3 471.4,296.2 472.7,295.6 473.9,294.4 475.1,294.6 476.4,293.7 477.6,293.1 478.8,292.9 479.9,292.3 481.1,291.7 482.2,291.9 483.3,292.1 484.4,293.1 485.7,294 487,293.4 488.3,294.2 489.6,294.4 490.9,294.5 492.2,295 493.5,295.2 494.8,296.1 496.1,296.2 497.4,297.2 498.7,296.8 500,297.6 501.3,298.1 502.6,298 503.9,298.5 505.4,297.9 506.8,297.2 507.9,296.5 509,295.7 510,295.1 511.1,295 512.3,294.2 513.4,294.6 514.6,293.7 515.6,294.1 516.6,294.2 517.6,295 518.9,294.7 520.2,294.1 521.5,292.7 522.8,293 524.1,292.9 525.4,293.7 526.7,293.6 528,293.8 529.3,294.6 530.6,293.8 531.9,292.8 533.2,292.7 534.3,292.3 535.5,292.2 536.6,292.5 537.7,292.3" fill="none" stroke="#0b72c0" stroke-width="1.5" stroke-linejoin="round"/>
<polyline points="392.7,208 393.6,209 394.6,209.3 395.5,209.3 396.4,209.7 397.2,210.3 398,211.1 398.9,211.6 399.9,210.6 400.9,210 401.9,208.5 403,207.6 403.9,207.2 404.8,207.8 405.7,208.4 406.6,209 407.5,207.5 408.4,208 409.2,207.5 410.1,207.2 410.9,207 411.8,205.9 413.2,205.2 414.1,205.5 415,206.2 415.9,207.3 416.8,207.1 417.6,207.5 418.4,207.7 419.3,208 420.2,209.4 421.1,209.9 422,210 423.1,210.2 424.1,209.3 425,208.3 425.9,208.1 426.8,208.6 427.9,208.6 428.9,208 429.8,208.8 430.6,208.3 431.4,208.6 432.3,208.6 433.2,208.2 434.1,209.2 435,209.7 435.9,210.4 436.8,210.2 437.7,209.7 438.6,210.5 439.4,210.9 440.3,210.1 441.2,210.7 442.1,209.9 442.9,209.8 443.8,210.2 444.6,210 445.9,209.7 446.8,210.8 447.8,211.9 448.7,212 449.6,212.7 450.4,212.9 451.2,213.5 452.1,213.4 453,213.6 453.9,213.9 454.8,214.1 455.6,213.4 456.5,214.5 457.4,213.7 458.2,214.1 459.1,214.4 460,213.6 460.9,213 461.8,212.6 462.6,212.2 463.5,212.2 464.4,212.5 465.3,212.3 466.2,212.1 467.1,210.8 468,211 469,210.8 470,212 471,212.5 471.9,213.1 472.9,213.3 473.8,213.9 474.9,214.6 476,216.1 477,215.8 477.9,214.3 478.9,214.6 479.8,214.5 480.7,214.9 481.6,215.9 482.5,215.4 483.4,215.6 484.3,216 485.1,215.4 486,215 486.9,215.4 487.8,215.4 488.7,216.8 489.6,216.8 490.5,216.8 491.4,216.1 492.3,215.2 493.1,215.5 494,215.3 494.9,214.6 495.8,214.9 496.7,215.1 497.5,216.2 498.4,217 499.3,216.8 500.2,216.7 501.1,216.8 502,217.7 502.9,218.3 504,218.9 505.1,219.7 506.1,219.3 507,217.8 508,217.5 508.9,217.8 509.8,217.5 510.7,217 511.6,216.8 512.5,216.5 513.5,217.9 514.4,217 515.3,217.5 516.2,218.9 517.1,218.9 518,219.8 518.9,221.2 519.8,222 520.6,221.6 521.5,223 522.3,222.7 523.1,222.5 524,223.4 524.9,223.5 525.8,224.4 526.6,225.4 527.5,226.4 528.4,226.3 529.3,226 530.1,226.7 531,226.7 531.8,228.2 532.7,227.7 533.7,227.1 534.6,227 535.6,227.7 536.7,228.1 537.7,229.9" fill="none" stroke="#ff0000" stroke-width="1.5" stroke-linejoin="round"/>
<polyline points="392.7,262.2 393.8,261.8 394.9,261.8 396,261.4 397.1,260.9 398.2,260.4 399.4,261.1 400.6,261.3 401.8,261.3 403,261.3 404.2,261.3 405.4,261.7 406.5,261.4 407.6,260.6 408.8,259.4 409.9,259.1 411,259.1 412.2,258.8 413.4,258.6 414.5,258.6 415.6,258.3 416.7,258 417.7,257.7 418.8,257.7 419.9,257.7 421.1,257.7 422.3,258.2 423.5,258 424.7,257.9 425.9,258.7 427.1,258.6 428.2,259.3 429.4,260.3 430.6,261.5 431.7,262.2 432.8,262.6 433.9,262.5 435.1,262.3 436.2,262.8 437.3,262.8 438.4,262.8 439.4,263.3 440.5,262.8 441.6,263.1 442.8,262.8 443.9,262.9 445.1,262.1 446.2,262.2 447.4,261.8 448.6,261.8 449.8,261.3 450.9,261.4 452,260.8 453,260.7 454.1,260.7 455.2,260.9 456.3,261.3 457.4,260.9 458.6,261.4 459.7,261.3 460.7,261.5 461.8,260.9 462.8,260.7 463.8,261.1 464.9,260.7 465.9,260.5 467.2,260.5 468.5,261.1 469.8,261.1 471,261.3 472.1,261.7 473.3,261.9 474.4,262.8 475.6,263 476.8,263.6 478,263.7 479.1,264.2 480.3,263.8 481.5,264.4 482.7,264.3 483.8,264.6 485,265.1 486.1,265.2 487.3,265 488.5,264.7 489.7,264.3 490.8,264.2 492,264 493.2,263.8 494.5,263.3 495.8,262 497.1,261.5 498.4,260.7 499.7,259.7 501,258.5 502.4,260.2 503.9,261.5 505.2,262.7 506.5,263.5 507.8,264.4 509.1,264.9 510.4,265.5 511.7,266.3 512.9,265.9 514.1,265.9 515.4,265 516.6,265 517.8,265 519,265.7 520.3,265.6 521.5,266 522.7,266 523.9,266.3 525.1,267 526.3,267.3 527.6,267.8 528.9,269 530.2,269.3 531.5,269.1 532.8,268.7 534.1,267.9 535.3,267.2 536.5,266.5 537.7,266.3" fill="none" stroke="#000000" stroke-width="1.7" stroke-dasharray="3.6 3.1" stroke-linejoin="round"/>
</g>
<rect x="392.5" y="190.5" width="145" height="117" fill="none" stroke="#5a5a5a" stroke-width="1"/>
<path d="M392.7 190.6h1.4M537.7 190.6h-1.4" stroke="#5a5a5a" stroke-width="0.8"/>
<path d="M392.7 226.8h1.4M537.7 226.8h-1.4" stroke="#5a5a5a" stroke-width="0.8"/>
<path d="M392.7 262.9h1.4M537.7 262.9h-1.4" stroke="#5a5a5a" stroke-width="0.8"/>
<path d="M392.7 299h1.4M537.7 299h-1.4" stroke="#5a5a5a" stroke-width="0.8"/>
<path d="M392.7 307.4v-1.4M392.7 190.4v1.4" stroke="#5a5a5a" stroke-width="0.8"/>
<path d="M453.1 307.4v-1.4M453.1 190.4v1.4" stroke="#5a5a5a" stroke-width="0.8"/>
<path d="M513.5 307.4v-1.4M513.5 190.4v1.4" stroke="#5a5a5a" stroke-width="0.8"/>
<g font-size="9.2" fill="#3c3c3c" color="#3c3c3c" class="tx">
<text transform="translate(387.8 193.9) scale(0.91 1)" text-anchor="end">200</text>
<text transform="translate(387.8 230) scale(0.91 1)" text-anchor="end">100</text>
<text transform="translate(387.8 266.2) scale(0.91 1)" text-anchor="end">0</text>
<text transform="translate(387.8 302.3) scale(0.91 1)" text-anchor="end">-100</text>
<text transform="translate(392.7 321) scale(0.91 1)" text-anchor="middle">0</text>
<text transform="translate(453.1 321) scale(0.91 1)" text-anchor="middle">5</text>
<text transform="translate(513.5 321) scale(0.91 1)" text-anchor="middle">10</text>
</g>
<text transform="translate(361.4 249) rotate(-90)" font-size="11.1" fill="#404040" color="#404040" text-anchor="middle" class="tx">∠ S<tspan font-size="8.2" dy="4">12</tspan><tspan dy="-4"> (°)</tspan></text>
<g font-size="11.1" fill="#404040" color="#404040" class="tx"><text transform="translate(465 333.6) scale(0.943 1)" text-anchor="middle">Frequency (GHz)</text></g>
<g font-size="14.2" fill="#111" stroke="#111" stroke-width="0.35"><text transform="translate(453.9 355.4) scale(0.9 1)" text-anchor="middle">f</text></g>
<rect x="458.5" y="221.5" width="67" height="35" fill="#fff" stroke="#7a7a7a" stroke-width="1"/>
<path d="M461.4 228.8H483.2" stroke="#0b72c0" stroke-width="1.4"/>
<circle cx="472.3" cy="239.5" r="0.8" fill="#ff0000"/>
<path d="M461.1 251.3H483.3" stroke="#000000" stroke-width="1.8" stroke-dasharray="4.6 4.2"/>
<g font-size="9.1" fill="#3c3c3c" color="#3c3c3c" class="tx">
<text transform="translate(485.5 232) scale(0.909 1)" text-anchor="start">Position 1</text>
<text transform="translate(485.5 242.7) scale(0.909 1)" text-anchor="start">Position 2</text>
<text transform="translate(485.5 254.5) scale(0.909 1)" text-anchor="start">Position 3</text>
</g>
</svg>
</body></html>
